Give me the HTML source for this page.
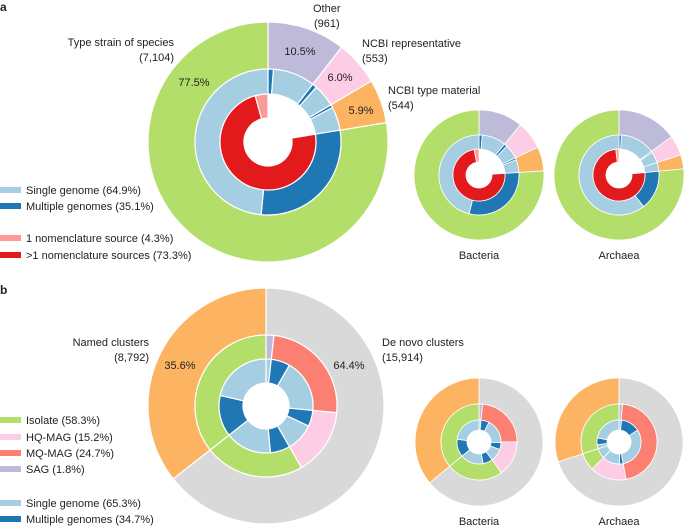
<!DOCTYPE html>
<html><head><meta charset="utf-8">
<style>
html,body{margin:0;padding:0;background:#fff;}
svg{display:block;font-family:"Liberation Sans",Arial,sans-serif;}
text{fill:#222;font-size:11px;}
</style></head>
<body>
<svg id="fig" width="685" height="527" viewBox="0 0 685 527">
  <text x="0" y="11" style="font-weight:bold;font-size:12px">a</text>
  <text x="0" y="294" style="font-weight:bold;font-size:12px">b</text>
  <g id="charts"></g>
  <!-- panel a annotations -->
  <text x="174" y="46" text-anchor="end">Type strain of species</text>
  <text x="174" y="61" text-anchor="end">(7,104)</text>
  <text x="194" y="86" text-anchor="middle">77.5%</text>
  <text x="313" y="12">Other</text>
  <text x="314" y="27">(961)</text>
  <text x="300" y="55" text-anchor="middle">10.5%</text>
  <text x="362" y="47">NCBI representative</text>
  <text x="362" y="62">(553)</text>
  <text x="340" y="81" text-anchor="middle">6.0%</text>
  <text x="388" y="94">NCBI type material</text>
  <text x="388" y="109">(544)</text>
  <text x="361" y="114" text-anchor="middle">5.9%</text>
  <text x="479" y="259" text-anchor="middle">Bacteria</text>
  <text x="619" y="259" text-anchor="middle">Archaea</text>
  <!-- panel b annotations -->
  <text x="149" y="346" text-anchor="end">Named clusters</text>
  <text x="149" y="361" text-anchor="end">(8,792)</text>
  <text x="180" y="369" text-anchor="middle">35.6%</text>
  <text x="349" y="369" text-anchor="middle">64.4%</text>
  <text x="382" y="346">De novo clusters</text>
  <text x="382" y="361">(15,914)</text>
  <text x="479" y="525" text-anchor="middle">Bacteria</text>
  <text x="619" y="525" text-anchor="middle">Archaea</text>
  <g id="legends"></g>
</svg>
<script>
const C={lav:"#bebada",pink:"#fccde5",org:"#fdb462",grn:"#b3de69",L:"#a6cee3",D:"#1f78b4",red:"#e31a1c",lp:"#fb9a99",sal:"#fb8072",gry:"#d9d9d9"};

// Panel a main
const aMainOuter=[10.5,6.0,5.9,77.5];
const aMainOuterCol=["lav","pink","org","grn"];
const aMainMid=[1.2,9.3,1.0,5.0,0.7,5.2,29.1,48.5];
const aMainMidCol=["D","L","D","L","D","L","D","L"];
const aMainInner=[22.4,73.3,4.3];
const aMainInnerCol=[null,"red","lp"];
// Panel a bacteria
const aBacOuter=[11,7,6,76];
const aBacMid=[1.3,9.7,1.2,5.8,0.8,5.2,30,46];
const aBacInner=[24,73,3];
// Panel a archaea
const aArcOuter=[15,5,3.5,76.5];
const aArcMid=[1,14,0.5,4.5,3.5,16,60.5];
const aArcMidCol=["D","L","D","L","L","D","L"];
const aArcInner=[23.5,74.5,2];
// Panel b main
const bMainOuter=[64.4,35.6];
const bOuterCol=["gry","org"];
const bMainMid=[1.8,24.7,15.2,22.7,35.6];
const bMidCol=["lav","sal","pink","grn","grn"];
const bMainInner=[1.8,6.5,18.2,5.5,9.7,6.8,15.9,14.2,21.4];
const bInnerCol=["L","D","L","D","L","D","L","D","L"];
// Panel b bacteria
const bBacOuter=[64,36];
const bBacMid=[1.5,23.5,15,24,36];
const bBacInner=[1.5,6,18,5,9.5,7,17,13,23];
// Panel b archaea
const bArcOuter=[70,30];
const bArcMid=[1.5,45.5,15.5,7.5,30];
const bArcInner=[2,14,31,2.5,13,7.5,3,5,22];
const bArcInnerCol=["L","D","L","D","L","L","L","D","L"];

const NS="http://www.w3.org/2000/svg";
const g=document.getElementById("charts");
function pt(cx,cy,r,f){const a=f*2*Math.PI;return [cx+r*Math.sin(a),cy-r*Math.cos(a)];}
function ring(parent,name,cx,cy,r0,r1,vals,cols,sw){
  const tot=vals.reduce((s,v)=>s+v,0);let acc=0;
  vals.forEach((v,i)=>{
    const f0=acc/tot,f1=(acc+v)/tot;acc+=v;
    if(!cols[i])return;
    const big=(f1-f0)>0.5?1:0;
    const [x0,y0]=pt(cx,cy,r1,f0),[x1,y1]=pt(cx,cy,r1,f1),[x2,y2]=pt(cx,cy,r0,f1),[x3,y3]=pt(cx,cy,r0,f0);
    const p=document.createElementNS(NS,"path");
    p.setAttribute("d",`M${x0},${y0}A${r1},${r1} 0 ${big} 1 ${x1},${y1}L${x2},${y2}A${r0},${r0} 0 ${big} 0 ${x3},${y3}Z`);
    p.setAttribute("fill",C[cols[i]]);
    p.setAttribute("stroke","#fff");
    p.setAttribute("stroke-width",sw);
    
    
    parent.appendChild(p);
  });
}
function chart(name,cx,cy,R,rings){
  const gg=document.createElementNS(NS,"g");
  
  
  g.appendChild(gg);
  rings.forEach((rg,k)=>ring(gg,name+'-ring'+k,cx,cy,rg[0]*R,rg[1]*R,rg[2],rg[3],rg[4]));
}
// panel a
chart("a-main-chart",268,142,120,[[73/120,1,aMainOuter,aMainOuterCol,1.2],[48/120,73/120,aMainMid,aMainMidCol,1.2],[24/120,48/120,aMainInner,aMainInnerCol,1.2]]);
chart("a-bacteria-chart",479,175,65,[[40/65,1,aBacOuter,aMainOuterCol,0.8],[26/65,40/65,aBacMid,aMainMidCol,0.8],[13/65,26/65,aBacInner,aMainInnerCol,0.8]]);
chart("a-archaea-chart",619,175,65,[[40/65,1,aArcOuter,aMainOuterCol,0.8],[26/65,40/65,aArcMid,aArcMidCol,0.8],[13/65,26/65,aArcInner,aMainInnerCol,0.8]]);
// panel b
chart("b-main-chart",266,406,118,[[71/118,1,bMainOuter,bOuterCol,1.2],[47/118,71/118,bMainMid,bMidCol,1.2],[23/118,47/118,bMainInner,bInnerCol,1.2]]);
chart("b-bacteria-chart",479,442,64,[[38/64,1,bBacOuter,bOuterCol,0.8],[22/64,38/64,bBacMid,bMidCol,0.8],[12/64,22/64,bBacInner,bInnerCol,0.8]]);
chart("b-archaea-chart",619,442,64,[[38/64,1,bArcOuter,bOuterCol,0.8],[22/64,38/64,bArcMid,bMidCol,0.8],[12/64,22/64,bArcInner,bArcInnerCol,0.8]]);

// legends
const legLabels=["Single genome (64.9%)","Multiple genomes (35.1%)","1 nomenclature source (4.3%)",">1 nomenclature sources (73.3%)","Isolate (58.3%)","HQ-MAG (15.2%)","MQ-MAG (24.7%)","SAG (1.8%)","Single genome (65.3%)","Multiple genomes (34.7%)"];
const legCols=["L","D","lp","red","grn","pink","sal","lav","L","D"];
const legY=[190,206,238,255,420,437,453,469,503,519];
const lg=document.getElementById("legends");
legLabels.forEach((t,i)=>{
  const r=document.createElementNS(NS,"rect");
  r.setAttribute("x",0);r.setAttribute("y",legY[i]-3);r.setAttribute("width",21);r.setAttribute("height",6);
  r.setAttribute("fill",C[legCols[i]]);
  
  
  lg.appendChild(r);
  const tx=document.createElementNS(NS,"text");
  tx.setAttribute("x",26);tx.setAttribute("y",legY[i]+4);tx.textContent=t;
  
  
  lg.appendChild(tx);
});
</script>
</body></html>
